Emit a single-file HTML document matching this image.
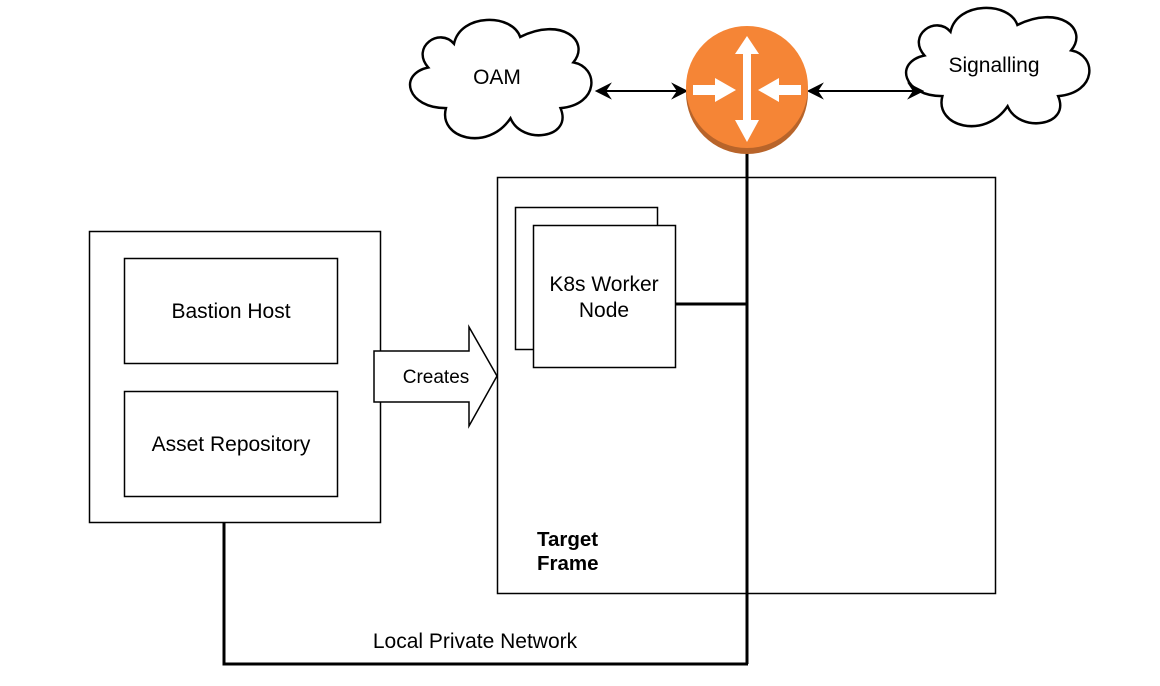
<!DOCTYPE html>
<html><head><meta charset="utf-8"><style>html,body{margin:0;padding:0;background:#fff}svg{display:block}</style></head>
<body>
<svg width="1160" height="686" viewBox="0 0 1160 686" xmlns="http://www.w3.org/2000/svg" font-family="Liberation Sans, sans-serif">
<defs>
<path id="cloud" d="M 25 60 C 1 60 -5 40 14 36 C 3 24 21 12 30 22 C 34 4 66 4 71 18 C 96 6 115 20 104 33 C 120 36 120 58 96 60 C 104 78 72 82 65 66 C 51 86 20 78 25 60 Z"/>
</defs>
<svg x="404" y="20" width="192" height="122" viewBox="-1 8 119 72" preserveAspectRatio="none" overflow="visible">
<use href="#cloud" fill="#fff" stroke="#000" stroke-width="1.5" vector-effect="non-scaling-stroke"/></svg>
<text x="497" y="84" font-size="21" text-anchor="middle">OAM</text>
<svg x="900" y="8" width="194" height="122" viewBox="-1 8 119 72" preserveAspectRatio="none" overflow="visible">
<use href="#cloud" fill="#fff" stroke="#000" stroke-width="1.5" vector-effect="non-scaling-stroke"/></svg>
<text x="994" y="72" font-size="21" text-anchor="middle">Signalling</text>
<g stroke="#000" stroke-width="2" fill="#000">
<line x1="602" y1="91" x2="680" y2="91"/>
<path d="M597 91 L609 85 L605 91 L609 97 Z"/>
<path d="M686 91 L674 85 L678 91 L674 97 Z"/>
<line x1="814" y1="91" x2="916" y2="91"/>
<path d="M809 91 L821 85 L817 91 L821 97 Z"/>
<path d="M922 91 L910 85 L914 91 L910 97 Z"/>
</g>
<g stroke="#000" stroke-width="3" fill="none">
<line x1="747" y1="150" x2="747" y2="664"/>
<polyline points="224,522 224,664 748,664"/>
<line x1="676" y1="304" x2="747" y2="304"/>
</g>
<rect x="497.5" y="177.5" width="498" height="416" fill="none" stroke="#000" stroke-width="1.5"/>
<line x1="747" y1="178" x2="747" y2="593" stroke="#000" stroke-width="3"/>
<text x="537" y="546" font-size="20.5" font-weight="bold">Target</text>
<text x="537" y="570" font-size="20.5" font-weight="bold">Frame</text>
<rect x="515.5" y="207.5" width="142" height="142" fill="#fff" stroke="#000" stroke-width="1.5"/>
<rect x="533.5" y="225.5" width="142" height="142" fill="#fff" stroke="#000" stroke-width="1.5"/>
<text x="604" y="291" font-size="21" text-anchor="middle">K8s Worker</text>
<text x="604" y="317" font-size="21" text-anchor="middle">Node</text>
<rect x="89.5" y="231.5" width="291" height="291" fill="#fff" stroke="#000" stroke-width="1.5"/>
<rect x="124.5" y="258.5" width="213" height="105" fill="#fff" stroke="#000" stroke-width="1.5"/>
<text x="231" y="318" font-size="21" text-anchor="middle">Bastion Host</text>
<rect x="124.5" y="391.5" width="213" height="105" fill="#fff" stroke="#000" stroke-width="1.5"/>
<text x="231" y="451" font-size="21" text-anchor="middle">Asset Repository</text>
<path d="M374 351 L469 351 L469 327 L497 376 L469 426 L469 402 L374 402 Z" fill="#fff" stroke="#000" stroke-width="1.5"/>
<text x="436" y="383" font-size="19" text-anchor="middle">Creates</text>
<text x="475" y="648" font-size="21" text-anchor="middle">Local Private Network</text>
<circle cx="747" cy="93" r="61" fill="#b8642a"/>
<circle cx="747" cy="87" r="61" fill="#f58536"/>
<g fill="#fff">
<path d="M747 36 L759 54 L751 54 L751 120 L759 120 L747 142 L735 120 L743 120 L743 54 L735 54 Z"/>
<path d="M693 85 L715 85 L715 78 L736 90 L715 102 L715 95 L693 95 Z"/>
<path d="M801 85 L779 85 L779 78 L758 90 L779 102 L779 95 L801 95 Z"/>
</g>
</svg>
</body></html>
